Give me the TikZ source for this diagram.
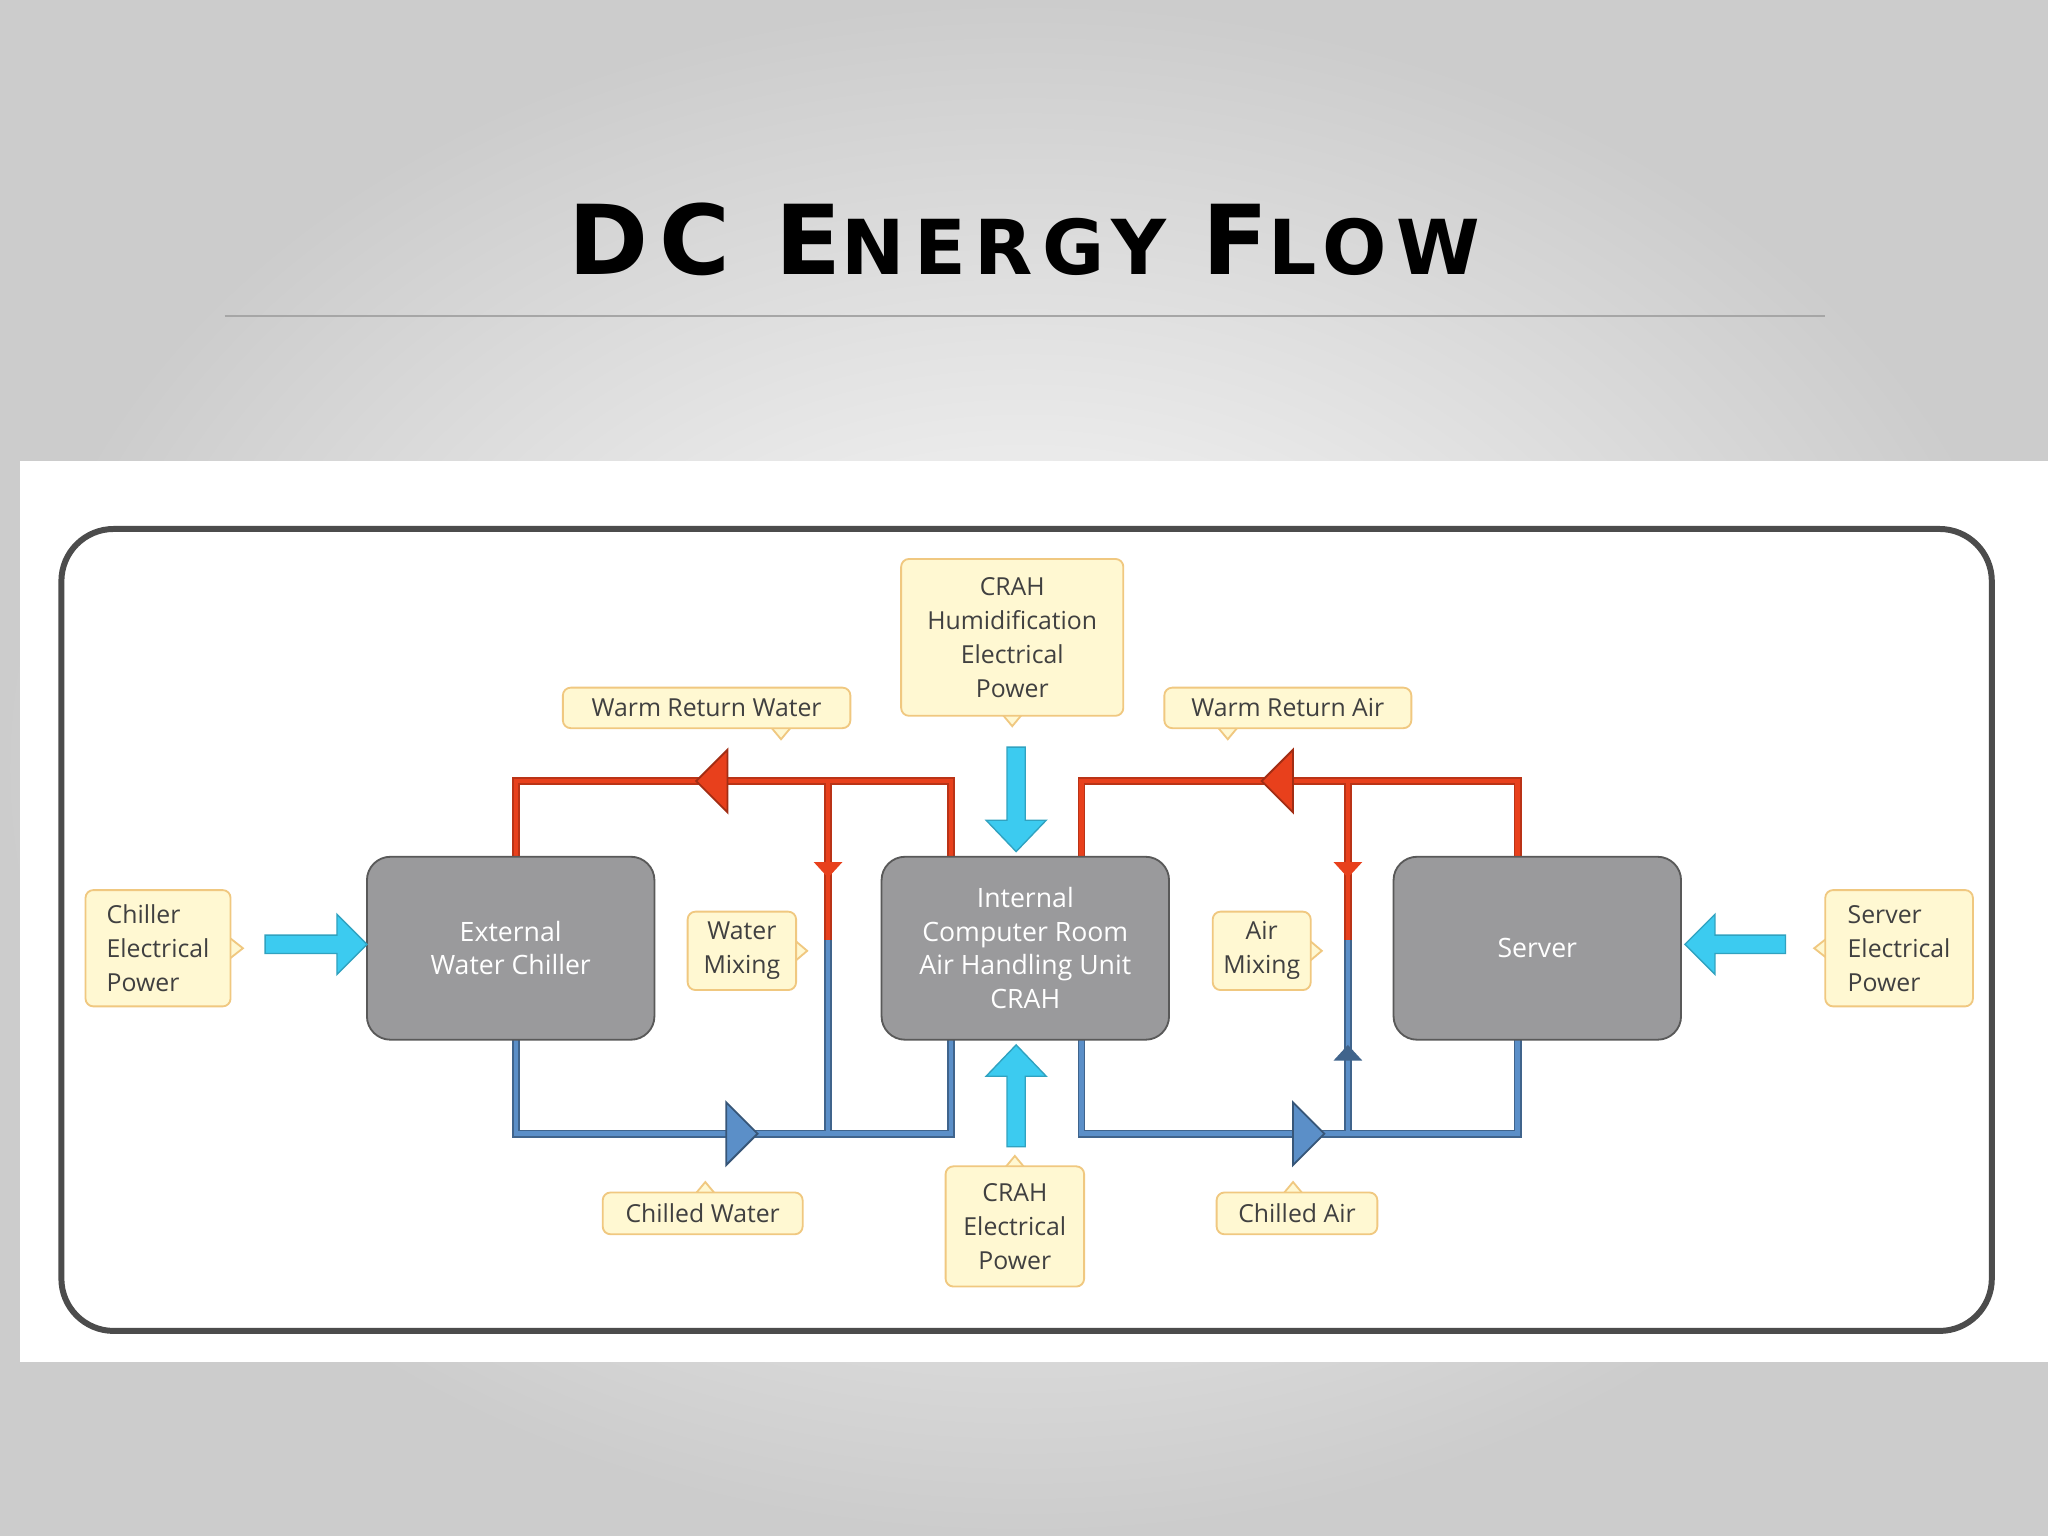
\documentclass[tikz,border=0pt]{standalone}
\usepackage{fontspec}
\setmainfont{Open Sans}
\newfontfamily\titlefont[LetterSpace=12]{DejaVu Sans}
\usetikzlibrary{calc}
\definecolor{pred}{HTML}{E8401C}
\definecolor{pblue}{HTML}{5B8FC8}
\definecolor{pcyan}{HTML}{3CCBF0}
\definecolor{cream}{HTML}{FFF8D2}
\definecolor{creamb}{HTML}{F0C880}
\definecolor{boxg}{HTML}{9A9A9C}
\tikzset{
 box/.style={draw=gray!70!black,fill=boxg,rounded corners=1.8mm,minimum width=2.2cm,minimum height=1.4cm,text=white,align=center,font=\fontsize{5.8}{7.3}\selectfont},
 call/.style={draw=creamb,fill=cream,rounded corners=0.6mm,align=center,font=\fontsize{5.4}{7.4}\selectfont,text=black!75,inner sep=1pt},
 pr/.style={draw=pred!80!black,line width=1.7pt},
 pri/.style={draw=pred,line width=1pt},
 pb/.style={draw=pblue!70!black,line width=1.7pt},
 pbi/.style={draw=pblue,line width=1pt},
 cy/.style={fill=pcyan,draw=pcyan!80!black,line width=0.3},
 ptr/.style={fill=cream,draw=creamb}
}
\begin{document}
\begin{tikzpicture}[x=0.01cm,y=-0.01cm]
\useasboundingbox (0,0) rectangle (1568,1176);
\shade[inner color=white,outer color=gray!40] (0,0) rectangle (1568,1176);
\node (title) at (784,183) {\titlefont\bfseries\fontsize{21}{22}\selectfont DC\ E\fontsize{16.5}{18}\selectfont NERGY\ \fontsize{21}{22}\selectfont F\fontsize{16.5}{18}\selectfont LOW};
\draw[gray!70,line width=0.6] (172,242) -- (1397,242);
\fill[white] (15,353) rectangle (1568,1043);
\draw[black!70,line width=1.3,rounded corners=4mm] (47,405) rectangle (1525,1019);
% pipes
\foreach \s in {pr,pri}{\draw[\s] (395,656) -- (395,598) -- (728,598) -- (728,656);
 \draw[\s] (634,598) -- (634,720);}
\foreach \s in {pb,pbi}{\draw[\s] (395,796) -- (395,868) -- (728,868) -- (728,796);
 \draw[\s] (634,868) -- (634,720);}
\foreach \s in {pr,pri}{\draw[\s] (828,656) -- (828,598) -- (1162,598) -- (1162,656);
 \draw[\s] (1032,598) -- (1032,720);}
\foreach \s in {pb,pbi}{\draw[\s] (828,796) -- (828,868) -- (1162,868) -- (1162,796);
 \draw[\s] (1032,868) -- (1032,720);}
% big arrowheads
\fill[pred,draw=pred!70!black] (533,598) -- (557,574) -- (557,622) -- cycle;
\fill[pred,draw=pred!70!black] (966,598) -- (990,574) -- (990,622) -- cycle;
\fill[pblue,draw=pblue!60!black] (580,868) -- (556,844) -- (556,892) -- cycle;
\fill[pblue,draw=pblue!60!black] (1014,868) -- (990,844) -- (990,892) -- cycle;
% small arrowheads
\fill[pred] (634,672) -- (623,660) -- (645,660) -- cycle;
\fill[pred] (1032,672) -- (1021,660) -- (1043,660) -- cycle;
\fill[pblue!70!black] (1032,800) -- (1021,812) -- (1043,812) -- cycle;
% boxes
\node[box] (chiller) at (391,726) {External\\Water Chiller};
\node[box] (crah) at (785,726) {Internal\\Computer Room\\Air Handling Unit\\CRAH};
\node[box] (server) at (1177,726) {Server};
% cyan arrows
\fill[cy] (203,716) -- (258,716) -- (258,700) -- (281,723) -- (258,746) -- (258,730) -- (203,730) -- cycle;
\fill[cy] (1367,716) -- (1313,716) -- (1313,700) -- (1290,723) -- (1313,746) -- (1313,730) -- (1367,730) -- cycle;
\fill[cy] (771,572) -- (785,572) -- (785,628) -- (801,628) -- (778,652) -- (755,628) -- (771,628) -- cycle;
\fill[cy] (771,878) -- (785,878) -- (785,824) -- (801,824) -- (778,800) -- (755,824) -- (771,824) -- cycle;
% callouts
\draw[ptr] (172,715) -- (186,726) -- (172,737);
\node[call,minimum width=1.11cm,minimum height=0.89cm,align=left] (cep) at (121,726) {Chiller\\Electrical\\Power};
\draw[ptr] (1403,715) -- (1389,726) -- (1403,737);
\node[call,minimum width=1.13cm,minimum height=0.89cm,align=left] (sep) at (1454,726) {Server\\Electrical\\Power};
\draw[ptr] (765,544) -- (775,556) -- (785,544);
\node[call,minimum width=1.7cm,minimum height=1.2cm] (hum) at (775,488) {CRAH\\Humidification\\Electrical\\Power};
\draw[ptr] (588,554) -- (598,566) -- (608,554);
\node[call,minimum width=2.2cm,minimum height=0.31cm] (wrw) at (541,542) {Warm Return Water};
\draw[ptr] (930,554) -- (940,566) -- (950,554);
\node[call,minimum width=1.89cm,minimum height=0.31cm] (wra) at (986,542) {Warm Return Air};
\draw[ptr] (605,717) -- (618,728) -- (605,739);
\node[call,minimum width=0.83cm,minimum height=0.6cm] (wm) at (568,728) {Water\\Mixing};
\draw[ptr] (999,717) -- (1012,728) -- (999,739);
\node[call,minimum width=0.75cm,minimum height=0.6cm] (am) at (966,728) {Air\\Mixing};
\draw[ptr] (530,917) -- (540,905) -- (550,917);
\node[call,minimum width=1.53cm,minimum height=0.32cm] (cw) at (538,929) {Chilled Water};
\draw[ptr] (767,897) -- (777,885) -- (787,897);
\node[call,minimum width=1.06cm,minimum height=0.92cm] (cep2) at (777,939) {CRAH\\Electrical\\Power};
\draw[ptr] (980,917) -- (990,905) -- (1000,917);
\node[call,minimum width=1.23cm,minimum height=0.32cm] (ca) at (993,929) {Chilled Air};
\end{tikzpicture}
\end{document}
